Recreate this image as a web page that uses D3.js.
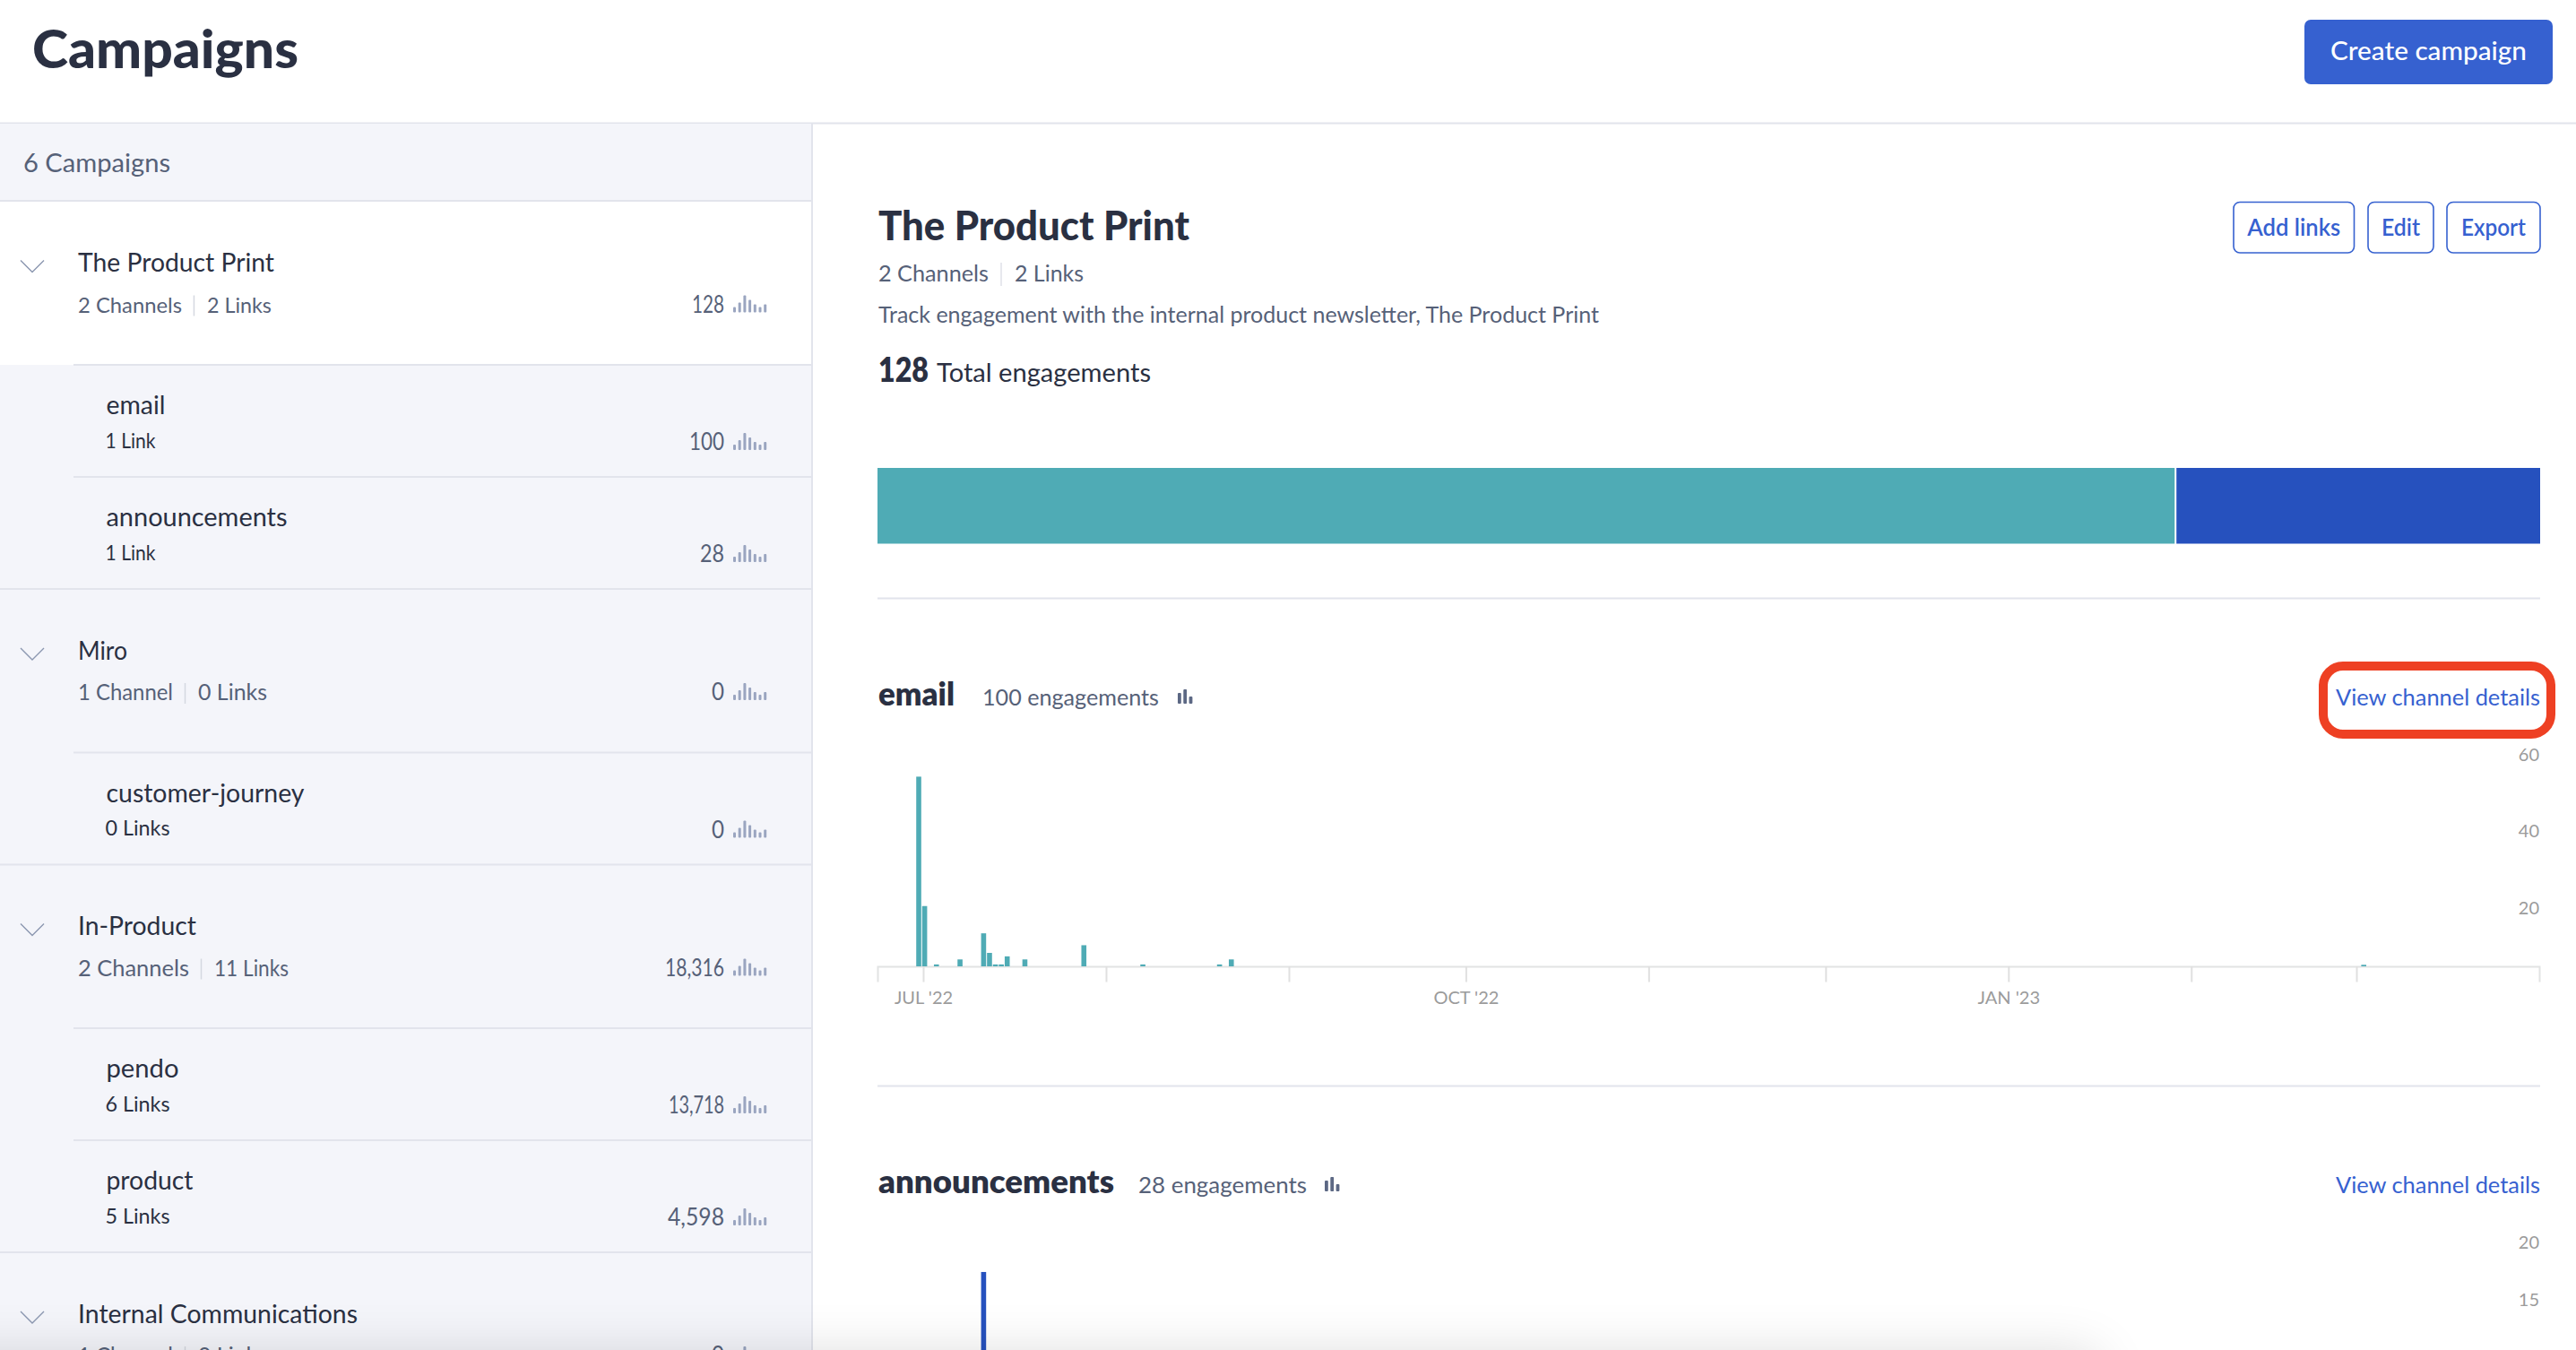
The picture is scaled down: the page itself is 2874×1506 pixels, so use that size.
<!DOCTYPE html>
<html>
<head>
<meta charset="utf-8">
<title>Campaigns</title>
<script src="https://cdn.jsdelivr.net/npm/d3@7"></script>
<style>
body { margin: 0; background: #fff; overflow: hidden; }
svg { display: block; font-family: Lato, "Open Sans", sans-serif; }
</style>
</head>
<body>
<svg id="page" width="2874" height="1506"></svg>
<script>
// sidebar data
var campaignNames = ["The Product Print", "Miro", "In-Product", "Internal Communications"];
var campaignChannels = ["2 Channels", "1 Channel", "2 Channels", "1 Channel"];
var campaignLinks = ["2 Links", "0 Links", "11 Links", "0 Links"];
var campaignTotals = ["128", "0", "18,316", "0"];
var channelNames = [["email", "announcements"], ["customer-journey"], ["pendo", "product"], []];
var channelLinks = [["1 Link", "1 Link"], ["0 Links"], ["6 Links", "5 Links"], []];
var channelTotals = [["100", "28"], ["0"], ["13,718", "4,598"], []];
var sparkValues = [6, 11, 19, 14, 9, 6, 9];
var headingIconValues = [12, 16, 8];

// split bar
var splitNames = ["email", "announcements"];
var splitValues = [100, 28];

// charts
var emailDates = ["2022-06-30", "2022-07-01", "2022-07-03", "2022-07-07", "2022-07-11", "2022-07-12",
    "2022-07-13", "2022-07-14", "2022-07-15", "2022-07-18", "2022-07-28", "2022-08-07",
    "2022-08-20", "2022-08-22", "2023-03-02"];
var emailValues = [49.4, 15.7, 0.5, 1.8, 8.6, 3.5, 0.5, 0.5, 2.6, 1.8, 5.5, 0.5, 0.5, 1.8, 0.4];
var announcementDates = ["2022-07-11"];
var announcementValues = [15.8];
var monthTicks = ["2022-07-01", "2022-08-01", "2022-09-01", "2022-10-01", "2022-11-01",
    "2022-12-01", "2023-01-01", "2023-02-01", "2023-03-01"];
var monthLabels = ["JUL '22", "", "", "OCT '22", "", "", "JAN '23", "", ""];
var emailTicks = [20, 40, 60];
var announcementTicks = [5, 10, 15, 20];

var INK = "#2a3042";
var SLATE = "#566178";
var LINE = "#e2e4ec";
var PANEL = "#f4f5fa";
var BLUE = "#3661d0";
var TEAL = "#4fabb5";
var ROYAL = "#2651be";
var GREY = "#9b9b9b";

// measured widths, the fonts differ a bit from the original
var metaWidths = {"2 Channels": 124, "1 Channel": 106, "2 Links": 77, "0 Links": 77, "11 Links": 83};
var rowWidths = {"1 Link": 56, "0 Links": 72, "6 Links": 72, "5 Links": 72};
var nameWidths = {"The Product Print": 219, "Miro": 55, "In-Product": 132, "Internal Communications": 312,
    "email": 66, "announcements": 202, "customer-journey": 221, "pendo": 81, "product": 97};
var totalWidths = {"128": 36, "0": 14, "18,316": 66, "100": 39, "28": 27, "13,718": 62, "4,598": 63};

var svg = d3.select("svg#page");

var label = function(parent, text, x, y, size, color, weight, width, anchor) {
    var t = parent.append("text")
        .text(text)
        .attr("x", x)
        .attr("y", y)
        .attr("font-size", size)
        .attr("fill", color)
        .attr("font-weight", weight || 400)
        .attr("text-anchor", anchor || "start");
    if (width) t.attr("textLength", width).attr("lengthAdjust", "spacingAndGlyphs");
    return t;
};

var rule = function(x1, x2, y) {
    svg.append("line").attr("x1", x1).attr("x2", x2).attr("y1", y).attr("y2", y)
        .attr("stroke", LINE).attr("stroke-width", 2);
};

var block = function(x, y, w, h, fill) {
    return svg.append("rect").attr("x", x).attr("y", y).attr("width", w).attr("height", h).attr("fill", fill);
};

// little bar icons, anchored on their bottom left
var barIcon = function(values, x, bottom, step, w, color) {
    var sx = d3.scaleLinear().domain([0, values.length]).range([x, x + step * values.length]);
    svg.append("g").selectAll("rect").data(values).join("rect")
        .attr("x", function(d, i) { return sx(i); })
        .attr("y", function(d) { return bottom - d; })
        .attr("width", w)
        .attr("height", function(d) { return d; })
        .attr("rx", 1)
        .attr("fill", color);
};

var drawTotal = function(value, y) {
    label(svg, value, 808, y, 27, SLATE, 400, totalWidths[value], "end");
    barIcon(sparkValues, 818, y, 5.7, 3, "#9aa5c0");
};

// header
label(svg, "Campaigns", 36, 76, 59, INK, 900, 297);
block(2571, 22, 277, 72, BLUE).attr("rx", 7);
label(svg, "Create campaign", 2600, 67, 29, "#fff", 500, 219);
rule(0, 2874, 137.5);

// sidebar
block(0, 138, 906, 1368, PANEL);
svg.append("line").attr("x1", 906).attr("x2", 906).attr("y1", 138).attr("y2", 1506)
    .attr("stroke", LINE).attr("stroke-width", 2);
label(svg, "6 Campaigns", 26, 192, 28, SLATE, 400, 164);
rule(0, 906, 224);
block(0, 225, 905, 182, "#fff");

var sectionY = 224.5;
campaignNames.forEach(function(name, i) {
    var selected = i == 0;
    var scale = selected ? 0.935 : 1;
    var y = sectionY;
    svg.append("path")
        .attr("d", d3.line()([[23, y + 66], [36, y + 79], [49, y + 66]]))
        .attr("fill", "none").attr("stroke", "#8b97b0").attr("stroke-width", 1.4);
    label(svg, name, 87, y + 78.5, 28.5, INK, 400, nameWidths[name]);

    var w1 = metaWidths[campaignChannels[i]] * scale;
    var w2 = metaWidths[campaignLinks[i]] * scale;
    label(svg, campaignChannels[i], 87, y + 124, 25 * scale, SLATE, 400, w1);
    svg.append("line").attr("x1", 87 + w1 + 13.5).attr("x2", 87 + w1 + 13.5)
        .attr("y1", y + 105).attr("y2", y + 128)
        .attr("stroke", "#d5d8e0").attr("stroke-width", 1.5);
    label(svg, campaignLinks[i], 87 + w1 + 28, y + 124, 25 * scale, SLATE, 400, w2);
    drawTotal(campaignTotals[i], y + 124);

    y += 182.5;
    channelNames[i].forEach(function(channel, j) {
        rule(82, 905, y);
        label(svg, channel, 118.5, y + 55, 28.5, INK, 400, nameWidths[channel]);
        label(svg, channelLinks[i][j], 117.5, y + 92.5, 24, INK, 400, rowWidths[channelLinks[i][j]]);
        drawTotal(channelTotals[i][j], y + 95);
        y += 125;
    });
    rule(0, 906, y);
    sectionY = y;
});

// detail head
label(svg, "The Product Print", 980, 267.5, 45, INK, 900, 347);
label(svg, "2 Channels", 980, 314, 25, SLATE, 400, 123);
svg.append("line").attr("x1", 1117).attr("x2", 1117).attr("y1", 293).attr("y2", 319)
    .attr("stroke", "#dfe1e8").attr("stroke-width", 1.5);
label(svg, "2 Links", 1132, 314, 25, SLATE, 400, 77);
label(svg, "Track engagement with the internal product newsletter, The Product Print", 980, 360, 25.5, SLATE, 400, 804);
label(svg, "128", 980, 426, 37, INK, 800, 56);
label(svg, "Total engagements", 1045, 426, 29, INK, 400, 239);

var button = function(text, x, w, textW) {
    block(x, 225.5, w, 56.5, "#fff").attr("rx", 7).attr("stroke", BLUE).attr("stroke-width", 1.6);
    label(svg, text, x + w / 2, 262.5, 26, BLUE, 600, textW, "middle");
};
button("Add links", 2492, 134.5, 104);
button("Edit", 2642, 73, 43);
button("Export", 2730, 104, 72);

// split bar of the two channels
var splitStart = d3.cumsum([0].concat(splitValues));
var splitX = d3.scaleLinear().domain([0, d3.sum(splitValues)]).range([979, 2834]);
var splitColor = d3.scaleOrdinal().domain(splitNames).range([TEAL, ROYAL]);
svg.append("g").selectAll("rect").data(splitNames).join("rect")
    .attr("x", function(d, i) { return splitX(splitStart[i]); })
    .attr("y", 522)
    .attr("width", function(d, i) { return splitX(splitStart[i + 1]) - splitX(splitStart[i]) - (i == 0 ? 2 : 0); })
    .attr("height", 84.5)
    .attr("fill", function(d) { return splitColor(d); });
rule(979, 2834, 667.5);

// channel charts
var x = d3.scaleUtc()
    .domain([new Date(Date.UTC(2022, 5, 23, 6)), new Date(Date.UTC(2023, 3, 1))])
    .range([979, 2833]);
var parseDay = d3.utcParse("%Y-%m-%d");
var barWidth = 5.6;

var drawChannelChart = function(opts) {
    var top = opts.base - 257;
    var y = d3.scaleLinear().domain([0, opts.max]).range([opts.base, top]);

    label(svg, opts.name, 980, opts.base - 291.5, 36, INK, 800, opts.nameW);
    label(svg, opts.sub, opts.subX, opts.base - 291, 25.5, SLATE, 400, opts.subW);
    barIcon(headingIconValues, opts.iconX, opts.base - 293, 6.3, 3.8, "#5c6884");
    label(svg, "View channel details", 2834, opts.base - 291, 25.5, BLUE, 400, 228, "end");

    var xAxis = d3.axisBottom(x)
        .tickValues(monthTicks.map(parseDay))
        .tickSize(17.5)
        .tickPadding(10)
        .tickFormat(function(d, i) { return monthLabels[i]; });
    var gx = svg.append("g").attr("transform", "translate(0," + opts.base + ")").call(xAxis);
    gx.select(".domain").attr("stroke", "#e2e3e3").attr("stroke-width", 2);
    gx.selectAll(".tick line").attr("stroke", "#e0e0e0").attr("stroke-width", 2);
    gx.selectAll(".tick text").attr("fill", GREY).attr("font-size", 20)
        .attr("font-family", "Lato, sans-serif");

    var yAxis = d3.axisLeft(y).tickValues(opts.ticks).tickSize(0).tickPadding(0);
    var gy = svg.append("g").attr("transform", "translate(2833,0)").call(yAxis);
    gy.select(".domain").remove();
    gy.selectAll(".tick text").attr("fill", GREY).attr("font-size", 20)
        .attr("font-family", "Lato, sans-serif").attr("dy", 27);

    svg.append("g").selectAll("rect").data(opts.values).join("rect")
        .attr("x", function(d, i) { return x(parseDay(opts.dates[i])) + 1.6 - barWidth / 2; })
        .attr("y", function(d) { return y(d); })
        .attr("width", barWidth)
        .attr("height", function(d) { return y(0) - y(d); })
        .attr("fill", opts.color);
};

drawChannelChart({name: "email", nameW: 85, sub: "100 engagements", subX: 1096, subW: 197, iconX: 1314,
    base: 1078, max: 60, ticks: emailTicks, dates: emailDates, values: emailValues, color: TEAL});
rule(979, 2834, 1211.5);
drawChannelChart({name: "announcements", nameW: 263, sub: "28 engagements", subX: 1270, subW: 188, iconX: 1478,
    base: 1622, max: 20, ticks: announcementTicks, dates: announcementDates, values: announcementValues, color: ROYAL});

// callout around the first link
svg.append("rect").attr("x", 2592).attr("y", 743).attr("width", 254).attr("height", 76).attr("rx", 22)
    .attr("fill", "none").attr("stroke", "#ee4023").attr("stroke-width", 10);

// soft shadow along the bottom of the window
var blur = svg.append("defs").append("filter").attr("id", "fade")
    .attr("filterUnits", "userSpaceOnUse")
    .attr("x", -300).attr("y", 1300).attr("width", 3000).attr("height", 500);
blur.append("feGaussianBlur").attr("stdDeviation", 30);
block(-200, 1510, 2540, 90, "#000").attr("opacity", 0.14).attr("filter", "url(#fade)");
</script>
</body>
</html>
